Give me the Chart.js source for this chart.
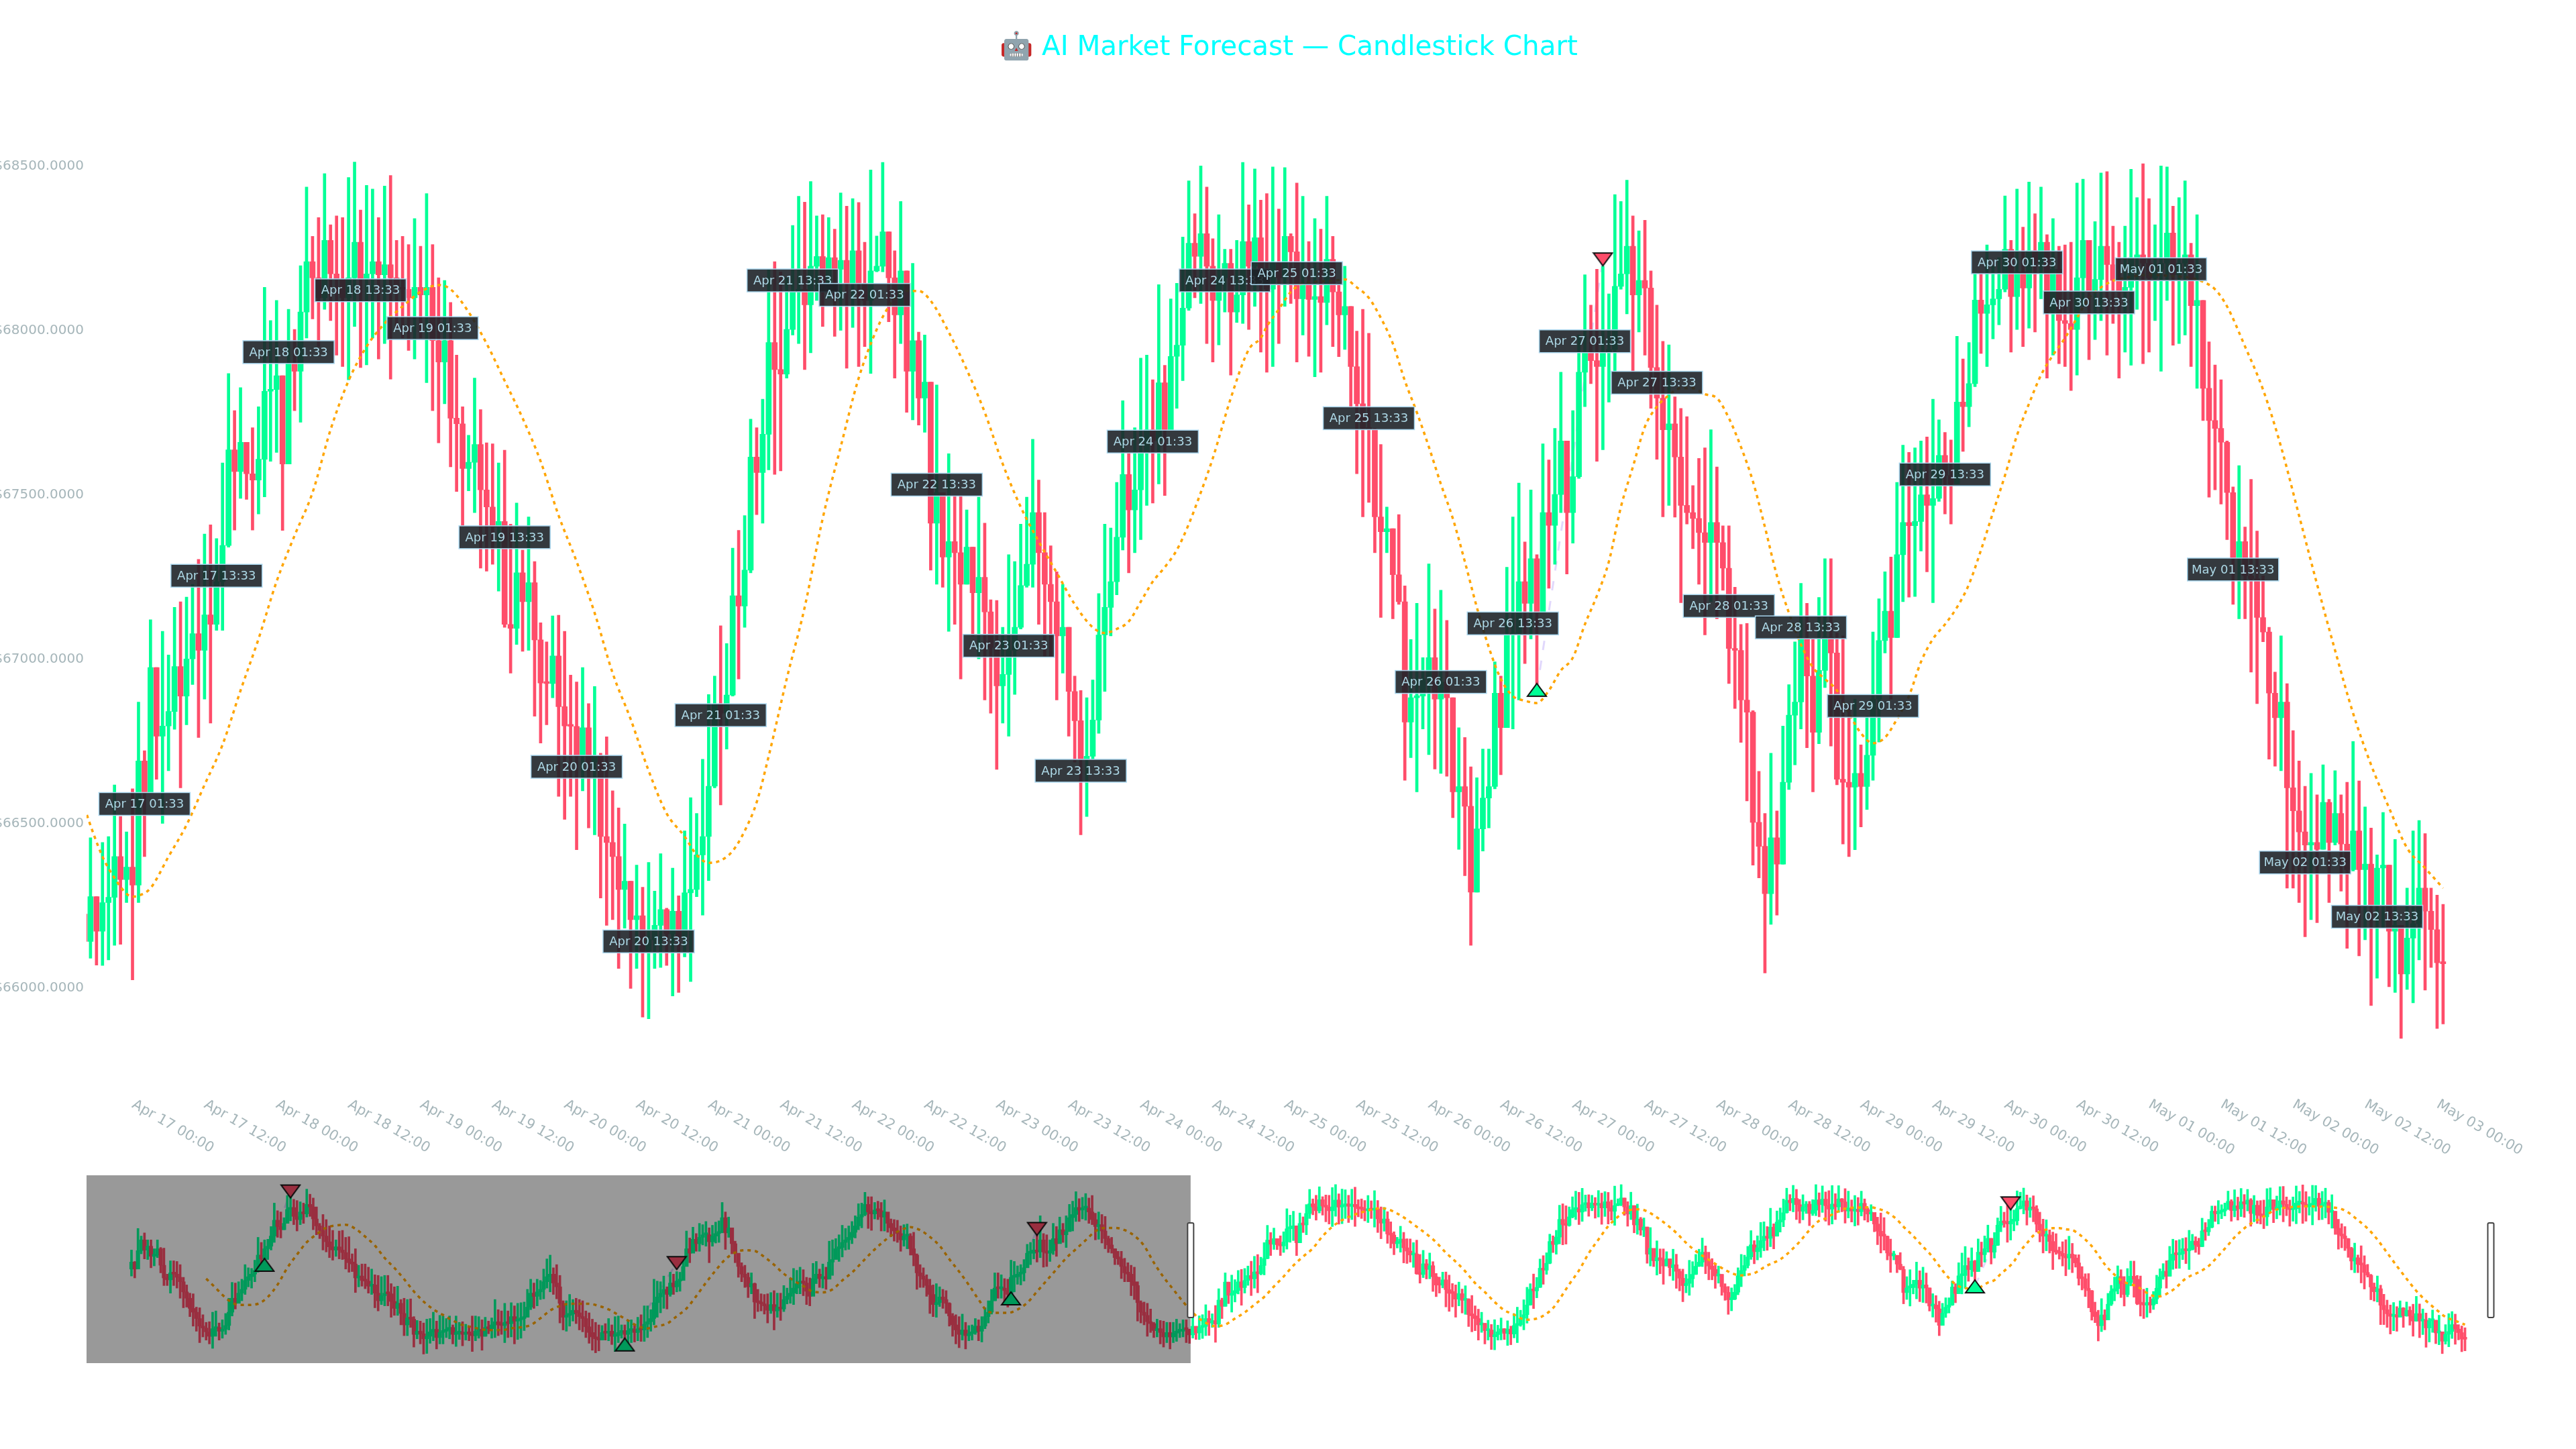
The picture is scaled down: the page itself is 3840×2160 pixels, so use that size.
<!DOCTYPE html>
<html>
<head>
<meta charset="utf-8">
<title>AI Market Forecast</title>
<script src="https://cdn.jsdelivr.net/npm/chart.js@4/dist/chart.umd.js"></script>
<style>
  html, body { margin: 0; background: #fff; overflow: hidden; }
  canvas { position: absolute; left: 0; }
</style>
</head>
<body>
<canvas id="mainChart" width="3840" height="1752" style="top:0"></canvas>
<canvas id="sliderChart" width="3840" height="408" style="top:1752px"></canvas>
<script>
// Values. Hours are counted from Apr 17 00:00, one candle per hour.
const firstHour = -334.45;
const firstOpen = 67180;

// candles before the visible window (only seen under the range slider mask)
const earlyHighs = [
  67480,67300,67820,67700,67750,67640,67640,67500,67640,67520,
  67510,67100,67310,67310,67300,67250,67050,66930,66800,66790,
  66580,66570,66460,66340,66350,66500,66520,66330,66380,66480,
  66720,66970,66960,66980,67020,67250,67200,67190,67320,67680,
  67600,67640,67650,67850,68220,68100,68080,67990,68340,68330,
  68280,68260,68240,68220,68440,68360,68300,68160,67900,68040,
  67960,67860,67790,67640,67780,67790,67680,67690,67420,67500,
  67240,67260,67260,67210,67180,67090,67080,67060,67080,67080,
  66950,66900,66910,66700,66720,66700,66710,66430,66370,66360,
  66330,66390,66400,66500,66360,66450,66440,66400,66440,66300,
  66440,66340,66350,66310,66280,66440,66440,66430,66380,66420,
  66360,66410,66700,66540,66520,66640,66520,66650,66600,66640,
  66650,66660,66860,67020,66960,67020,67000,67180,67340,67400,
  67200,67250,67080,66680,66680,66780,66700,66720,66700,66680,
  66520,66490,66390,66340,66300,66290,66320,66400,66300,66430,
  66440,66300,66300,66380,66380,66310,66420,66460,66600,66600,
  66540,67020,66990,66980,67070,66900,67130,67100,67140,67130,
  67320,67780,67670,67840,67740,67900,67880,67930,67830,67870,
  67920,67940,68230,68080,68000,67790,67620,67370,67280,67240,
  67120,67120,66960,66860,66790,66780,66790,66810,66840,66800,
  66800,66920,66880,67040,67190,67160,67210,67170,67050,67040,
  67270,67300,67180,67260,67210,67620,67640,67660,67720,67870,
  67820,67860,67930,68020,68210,68220,68390,68320,68320,68230,
  68250,68230,68270,68060,67970,67960,67950,67860,67880,67890,
  67740,67760,67420,67250,67200,67090,67020,66930,66950,66900,
  66860,66840,66650,66480,66460,66430,66470,66340,66290,66300,
  66400,66380,66430,66570,66680,66860,67120,67120,67090,67030,
  67020,67320,67300,67230,67250,67330,67570,67600,67650,67740,
  68020,67740,67720,67640,67900,67850,68000,67900,68020,68200,
  68250,68400,68290,68310,68370,68300,68340,68060,68080,68040,
  68010,67700,67680,67500,67460,67460,67350,67280,67240,67210,
  66980,66680,66660,66640,66550,66340,66390,66370,66360,66340,
  66340,66340,66390,66320,66380,66380
];
const earlyLows = [
  67070,67040,67270,67420,67340,67330,67200,67230,67360,67120,
  66920,66920,66800,66920,66880,66720,66570,66580,66430,66280,
  66200,66020,66110,66060,66000,65930,66120,66060,66090,66150,
  66220,66440,66550,66700,66680,66780,66900,66880,66980,67130,
  67140,67230,67330,67480,67600,67680,67670,67800,67940,67940,
  67880,67780,67880,67900,68000,68010,67800,67720,67660,67480,
  67450,67360,67320,67380,67340,67330,67180,67130,67140,66810,
  66900,66910,66870,66800,66780,66570,66520,66620,66600,66600,
  66420,66450,66450,66300,66130,66130,66260,65950,66080,66000,
  65840,65850,66010,66050,65920,66000,66000,66100,66080,66000,
  65960,66070,65970,66060,66050,65880,66050,66090,65900,66120,
  66160,66090,66100,66130,66150,66020,66100,66110,66000,66070,
  66090,66210,66420,66540,66560,66600,66700,66710,66880,66820,
  66780,66710,66330,66220,66200,66280,66360,66320,66220,66190,
  66100,66010,65900,65860,65890,66060,66060,66050,65990,65880,
  66020,66090,66050,65970,66020,66030,66050,66040,66040,66100,
  66200,66300,66420,66490,66560,66550,66750,66780,66820,66830,
  67090,67290,67280,67440,67460,67460,67560,67540,67280,67540,
  67590,67600,67750,67490,67680,67420,67280,67050,66980,66890,
  66730,66790,66400,66510,66520,66470,66330,66480,66220,66420,
  66370,66510,66630,66640,66620,66790,66790,66760,66620,66600,
  66830,66950,66890,66880,66860,67070,67080,67340,67300,67370,
  67480,67490,67580,67670,67800,67830,68020,67820,67790,67970,
  67960,67780,67780,67760,67690,67620,67600,67460,67540,67500,
  67400,67230,66860,66890,66890,66750,66480,66430,66420,66590,
  66560,66480,66280,66120,66000,65940,66060,65920,66050,66060,
  66150,66050,66030,66240,66330,66470,66680,66720,66720,66650,
  66580,66790,66820,66940,66930,66990,67270,67250,67340,67290,
  67360,67210,67220,67300,67410,67380,67600,67600,67520,67780,
  67780,67930,67930,67970,67950,67900,67880,67640,67650,67590,
  67500,67440,67430,67250,67250,67030,66980,66980,66760,66700,
  66360,66330,66300,66120,66180,66100,66110,66000,65950,66020,
  65920,66020,66040,66100,66110,66020
];
const earlyCloses = [
  67290,67180,67470,67640,67480,67540,67380,67400,67500,67240,
  67040,67010,67120,67100,67050,66980,66820,66720,66560,66500,
  66400,66280,66250,66190,66120,66240,66260,66200,66230,66290,
  66500,66720,66640,66800,66860,67000,67060,67100,67160,67400,
  67340,67500,67540,67700,67950,67850,67800,67900,68120,68150,
  68010,67960,68080,68050,68200,68160,67970,67860,67790,67700,
  67610,67530,67480,67530,67480,67440,67340,67280,67260,67040,
  67070,67000,66990,66910,66930,66800,66680,66760,66800,66790,
  66670,66560,66640,66480,66300,66410,66390,66150,66200,66160,
  66080,66120,66190,66230,66100,66180,66200,66220,66260,66150,
  66170,66190,66150,66180,66160,66130,66200,66230,66120,66260,
  66240,66300,66350,66300,66290,66340,66320,66430,66360,66380,
  66400,66420,66580,66800,66750,66820,66860,66980,67060,67100,
  66960,66900,66640,66420,66450,66470,66530,66490,66430,66400,
  66270,66180,66110,66080,66060,66180,66170,66200,66120,66130,
  66180,66210,66150,66210,66230,66180,66240,66220,66310,66350,
  66400,66650,66740,66800,66860,66780,66960,66900,66990,67000,
  67220,67500,67430,67650,67580,67680,67720,67720,67610,67700,
  67740,67760,67990,67750,67830,67580,67430,67220,67100,67050,
  66900,66950,66660,66650,66630,66600,66530,66620,66520,66580,
  66550,66700,66750,66800,66880,66950,66990,66960,66830,66750,
  67030,67100,67030,67060,67020,67290,67330,67500,67520,67600,
  67640,67680,67760,67860,68000,68040,68200,68080,68050,68110,
  68100,68000,68080,67900,67830,67780,67740,67640,67700,67700,
  67500,67400,67120,67070,67020,66920,66780,66620,66650,66740,
  66700,66640,66440,66300,66220,66150,66220,66130,66160,66180,
  66280,66200,66280,66430,66500,66680,66880,66870,66880,66840,
  66780,67050,67060,67100,67120,67200,67430,67430,67480,67450,
  67640,67450,67430,67470,67660,67580,67800,67720,67770,67990,
  68040,68150,68110,68140,68140,68080,67960,67850,67880,67780,
  67660,67560,67500,67360,67340,67220,67120,67100,66980,66920,
  66650,66500,66450,66350,66320,66210,66240,66180,66110,66180,
  66110,66170,66200,66200,66230,66225
];

// candles inside the visible window
const highs = [
  66234,66457,66278,66443,66461,66618,66522,66475,66606,66870,
  66722,67120,66975,67085,67013,67158,67175,67189,67228,67304,
  67381,67409,67367,67597,67869,67756,67826,67660,67704,67768,
  68131,68030,68091,67862,68064,68003,68197,68436,68286,68343,
  68477,68321,68348,68343,68465,68512,68366,68441,68430,68343,
  68439,68471,68274,68286,68261,68340,68256,68416,68261,68160,
  68152,68085,67925,67768,67681,67855,67759,67658,67655,67597,
  67636,67411,67475,67332,67433,67297,67111,67053,67132,67134,
  67085,66952,66931,66975,66865,66917,66714,66764,66600,66548,
  66499,66325,66374,66307,66382,66295,66409,66243,66365,66281,
  66478,66579,66531,66696,66893,66949,67102,67048,67338,67392,
  67437,67730,67704,67791,68186,68209,68178,68160,68319,68408,
  68390,68453,68348,68352,68343,68308,68418,68378,68401,68389,
  68268,68488,68287,68511,68300,68242,68392,68181,68204,67995,
  67986,67843,67834,67498,67625,67498,67498,67454,67341,67493,
  67414,67181,67179,67097,67318,67297,67411,67493,67669,67545,
  67446,67345,67266,67228,67097,66949,66905,66883,66937,67200,
  67411,67399,67538,67786,67629,67704,67916,67925,67850,68139,
  67894,68096,68143,68284,68455,68355,68500,68436,68279,68352,
  68247,68247,68274,68511,68382,68491,68396,68416,68497,68369,
  68495,68294,68448,68408,68270,68340,68308,68408,68286,68143,
  68195,68073,67998,68064,67991,67702,67653,67463,67397,67440,
  67223,67060,67170,67005,67290,67153,67210,67118,66883,66792,
  66762,66673,66640,66727,66727,66992,66949,67280,67433,67536,
  67357,67515,67318,67655,67606,67702,67873,67664,67756,67986,
  68169,68077,68186,68195,68111,68413,68392,68457,68348,68303,
  68335,68181,68077,67967,67956,67798,67763,67738,67528,67611,
  67643,67698,67585,67406,67406,67219,67106,67109,66844,66659,
  66531,66714,66539,66797,66923,67053,67231,67170,67062,67188,
  67306,67306,67080,67071,66862,66879,66740,66827,67083,67184,
  67266,67311,67538,67651,67629,67643,67664,67676,67791,67728,
  67690,67667,67982,67913,67963,68174,68174,68260,68195,68221,
  68409,68274,68430,68314,68451,68355,68436,68291,68340,68256,
  68260,68268,68448,68460,68274,68331,68479,68483,68317,68268,
  68317,68490,68404,68507,68401,68321,68500,68497,68378,68404,
  68455,68265,68352,68091,67965,67895,67850,67664,67524,67589,
  67402,67547,67390,67254,67097,66961,67071,66926,66783,66691,
  66614,66653,66588,66679,66574,66661,66588,66626,66750,66630,
  66551,66487,66405,66534,66374,66452,66191,66304,66478,66510,
  66470,66304,66283,66255
];
const lows = [
  66008,66091,66070,66069,66086,66130,66133,66260,66025,66260,
  66400,66592,66635,66501,66661,66787,66609,66801,66923,66762,
  66879,66806,67088,67088,67341,67393,67489,67486,67393,67442,
  67494,67602,67629,67392,67594,67756,67721,67977,68035,67951,
  68064,68030,67925,67890,67850,68012,67887,67895,67977,67913,
  67960,67852,68003,67977,67939,67913,67977,67841,67756,67658,
  67777,67585,67510,67406,67512,67446,67277,67268,67289,67207,
  67097,66958,67045,67024,67027,66827,66745,66801,66883,66583,
  66513,66583,66421,66600,66487,66466,66274,66191,66208,66060,
  66182,65999,66060,65912,65907,66060,66063,66069,65976,65987,
  66095,66020,66278,66222,66327,66609,66557,66727,66888,66940,
  67097,67263,67440,67414,67576,67562,67573,67855,67986,67960,
  67881,67932,68091,68012,68099,67982,68000,67885,68009,67890,
  67951,67869,68178,68178,68026,67855,67960,67751,67728,67712,
  67690,67271,67228,67219,67085,67106,66940,67228,67071,67001,
  66876,66836,66665,66806,66766,66893,67092,67219,67219,67106,
  67010,67010,66876,66958,66766,66687,66466,66522,66696,66775,
  66902,67071,67196,67332,67263,67324,67364,67468,67475,67533,
  67498,67698,67763,67847,68061,68099,68082,67960,67904,67956,
  68056,67864,68024,68021,68003,68073,67934,67873,67890,67960,
  68073,68082,67904,67986,67921,67859,67873,68017,67951,67920,
  67942,67768,67564,67433,67477,67324,67127,67324,67123,67167,
  66632,66701,66597,66788,66710,66666,66653,66644,66518,66422,
  66342,66130,66292,66417,66487,66606,66649,66792,66788,66876,
  66987,67062,66923,67141,67216,67289,67446,67259,67353,67550,
  67768,67838,67602,67637,67782,67873,68125,68050,67873,67995,
  67925,67763,67608,67433,67468,67432,67172,67411,67336,67228,
  67074,67175,67123,67210,66926,66850,66747,66569,66374,66335,
  66046,66194,66222,66377,66604,66679,66788,66731,66597,66743,
  66914,66736,66618,66438,66400,66421,66490,66543,66632,66748,
  67019,66879,67066,67175,67189,67191,67329,67266,67172,67480,
  67442,67411,67533,67632,67707,67829,67930,67890,67974,68017,
  68117,67934,68003,67951,68007,67995,68096,67855,67925,67899,
  67890,67817,67864,68073,67911,67972,68030,67925,68021,67855,
  67934,67894,68064,67899,67934,68030,67876,68091,67955,67960,
  67986,67890,67824,67726,67493,67515,67472,67364,67167,67123,
  67123,66961,66865,67053,66696,66675,66661,66304,66304,66260,
  66156,66208,66199,66422,66260,66435,66295,66121,66356,66098,
  66147,65947,66030,66182,66004,65987,65847,65996,65955,66086,
  65994,66063,65877,65891
];
const closes = [
  66142,66278,66173,66260,66276,66400,66330,66368,66313,66691,
  66592,66975,66766,66797,66841,66978,66888,67001,67078,67027,
  67135,67106,67236,67346,67637,67571,67660,67564,67545,67608,
  67815,67820,67862,67594,67899,67876,68056,68209,68160,68099,
  68274,68172,68155,68099,68160,68268,68157,68172,68209,68169,
  68200,68160,68131,68125,68099,68131,68108,68131,67969,67904,
  67969,67733,67716,67580,67599,67653,67515,67463,67402,67419,
  67106,67094,67263,67175,67233,67059,66928,66926,67010,66856,
  66797,66796,66705,66792,66687,66705,66461,66443,66400,66300,
  66325,66208,66220,66112,66147,66191,66239,66165,66234,66156,
  66290,66300,66405,66461,66614,66862,66836,66891,67193,67162,
  67271,67615,67568,67684,67963,67881,67867,68003,68117,68125,
  68078,68195,68225,68143,68221,68186,68213,68143,68242,68143,
  68091,68181,68195,68300,68160,68047,68181,67876,67969,67794,
  67843,67414,67507,67311,67358,67324,67228,67341,67202,67249,
  67144,67036,66919,66954,67027,67097,67224,67289,67446,67324,
  67228,67175,67071,67097,66902,66813,66696,66705,66815,67074,
  67158,67236,67371,67562,67454,67515,67629,67698,67664,67841,
  67698,67921,67955,68068,68265,68225,68294,68195,68091,68160,
  68204,68056,68108,68270,68195,68282,68178,68125,68204,68160,
  68286,68239,68096,68143,68094,68103,68085,68216,68117,68047,
  68073,67890,67777,67702,67698,67433,67388,67397,67257,67175,
  66809,66883,66888,66940,67005,66879,66931,66883,66597,66613,
  66553,66292,66484,66578,66613,66897,66792,67074,67078,67236,
  67170,67306,67141,67446,67407,67501,67664,67446,67555,67873,
  67934,67908,67890,67934,67942,68134,68172,68256,68108,68152,
  68129,67887,67794,67698,67716,67615,67468,67446,67428,67385,
  67355,67416,67355,67277,67033,67027,66876,66839,66504,66431,
  66287,66457,66377,66626,66830,66870,67062,66949,66778,66966,
  67067,67019,66635,66626,66611,66653,66613,66708,66879,67057,
  67146,67066,67318,67416,67406,67419,67500,67468,67489,67620,
  67559,67533,67782,67768,67838,68092,68052,68078,68096,68125,
  68247,68103,68178,68129,68242,68204,68268,68056,68186,68030,
  68021,68003,68160,68274,68117,68155,68256,68200,68152,68117,
  68131,68221,68230,68204,68160,68186,68204,68296,68169,68204,
  68230,68075,68091,67824,67726,67702,67660,67507,67306,67358,
  67254,67245,67127,67083,66897,66822,66870,66609,66539,66475,
  66435,66443,66422,66565,66443,66531,66438,66360,66478,66360,
  66377,66252,66365,66374,66173,66191,66043,66152,66196,66304,
  66234,66178,66077,66074
];

// dotted moving average, sampled along the candles (candle number, price)
const earlyMaCandle = [
  23,26,28,30,33,36,39,42,45,48,
  51,54,57,60,63,66,69,72,75,78,
  81,84,87,90,93,96,99,102,105,108,
  111,114,117,120,123,126,129,132,135,138,
  141,144,147,150,153,156,159,162,165,168,
  171,174,177,180,183,186,189,192,195,198,
  201,204,207,210,213,216,219,222,225,228,
  231,234,237,240,243,246,249,252,255,258,
  261,264,267,270,273,276,279,282,285,288,
  291,294,297,300,303,306,309,312,315,318,
  321,324
];
const earlyMa = [
  67028,66880,66774,66686,66615,66615,66633,66739,66933,67198,
  67409,67603,67727,67832,67868,67878,67815,67691,67550,67356,
  67198,67021,66827,66668,66545,66457,66369,66298,66263,66228,
  66217,66217,66245,66263,66298,66404,66527,66598,66633,66633,
  66633,66598,66545,66457,66369,66280,66245,66280,66320,66436,
  66559,66753,66965,67159,67335,67441,67476,67466,67371,67247,
  67106,67000,66912,66824,66813,66859,67000,67124,67282,67441,
  67582,67706,67794,67840,67794,67688,67547,67335,67141,66930,
  66700,66507,66489,66489,66542,66648,66824,67000,67177,67353,
  67494,67635,67776,67829,67829,67794,67706,67547,67282,67053,
  66859,66665
];
const maCandle = [
  0,3,5,7,8,9,11,14,17,20,
  23,26,29,32,35,38,41,44,47,50,
  53,56,59,61,64,67,70,73,76,79,
  82,85,88,91,94,97,100,102,104,106,
  108,110,112,114,117,120,123,126,129,132,
  134,135,137,139,141,144,147,150,153,156,
  159,162,165,168,170,172,174,176,178,180,
  182,184,186,188,191,194,196,197,199,201,
  203,205,208,210,212,214,216,218,220,222,
  224,226,228,230,232,234,236,238,240,242,
  244,246,248,250,252,254,256,258,260,262,
  264,266,268,270,272,274,276,278,280,282,
  284,286,288,290,292,294,296,298,300,302,
  304,306,308,310,312,314,316,318,320,322,
  324,326,328,330,332,334,336,338,340,344,
  348,351,353,355,357,360,363,366,369,372,
  375,378,381,384,387,390,393
];
const maValues = [
  66548,66400,66335,66287,66278,66281,66304,66400,66496,66618,
  66740,66905,67062,67236,67376,67507,67698,67847,67951,68021,
  68073,68117,68138,68125,68056,67960,67847,67733,67602,67437,
  67297,67141,66958,66818,66661,66531,66461,66405,66381,66388,
  66417,66478,66565,66705,66940,67158,67428,67646,67855,68003,
  68073,68099,68120,68120,68090,67995,67881,67751,67594,67463,
  67358,67263,67167,67097,67080,67092,67115,67175,67236,67280,
  67332,67411,67507,67611,67794,67942,67977,68012,68064,68117,
  68143,68148,68151,68155,68131,68099,68038,67960,67847,67751,
  67646,67533,67428,67297,67158,67036,66940,66888,66874,66867,
  66905,66966,67005,67106,67193,67297,67463,67585,67707,67768,
  67803,67824,67824,67806,67794,67733,67646,67541,67402,67254,
  67141,67045,66975,66940,66905,66836,66775,66745,66762,66818,
  66888,66992,67062,67106,67158,67228,67332,67446,67559,67681,
  67777,67864,67925,67977,68038,68099,68131,68151,68160,68169,
  68165,68160,68148,68125,68073,67951,67820,67646,67437,67228,
  67027,66836,66679,66548,66426,66365,66304
];

// buy and sell signals (candle number, price)
const buyCandles = [41, 152, 271, 568];
const buyPrices = [67247, 65991, 66718, 66907];
const sellCandles = [49, 168, 279, 579];
const sellPrices = [68404, 67275, 67812, 68216];

// note boxes on the main chart
const noteCandles = [
  336,348,360,372,384,396,408,420,432,444,456,468,480,492,504,516,
  528,540,552,564,576,588,600,612,624,636,648,660,672,684,696,708
];
const noteTexts = [
  'Apr 17 01:33','Apr 17 13:33','Apr 18 01:33','Apr 18 13:33','Apr 19 01:33','Apr 19 13:33','Apr 20 01:33','Apr 20 13:33',
  'Apr 21 01:33','Apr 21 13:33','Apr 22 01:33','Apr 22 13:33','Apr 23 01:33','Apr 23 13:33','Apr 24 01:33','Apr 24 13:33',
  'Apr 25 01:33','Apr 25 13:33','Apr 26 01:33','Apr 26 13:33','Apr 27 01:33','Apr 27 13:33','Apr 28 01:33','Apr 28 13:33',
  'Apr 29 01:33','Apr 29 13:33','Apr 30 01:33','Apr 30 13:33','May 01 01:33','May 01 13:33','May 02 01:33','May 02 13:33'
];
const notePrices = [
  66560,67254,67934,68122,68007,67371,66673,66142,66830,68152,68108,67531,67041,66661,67662,68152,
  68174,67733,66931,67109,67967,67841,67162,67097,66858,67562,68207,68085,68186,67273,66382,66217
];

const yTickValues = [66000, 66500, 67000, 67500, 68000, 68500];
const xTickHours = [0,12,24,36,48,60,72,84,96,108,120,132,144,156,168,180,192,204,216,228,240,252,264,276,288,300,312,324,336,348,360,372,384];
const xTickLabels = [
  'Apr 17 00:00','Apr 17 12:00','Apr 18 00:00','Apr 18 12:00','Apr 19 00:00','Apr 19 12:00','Apr 20 00:00','Apr 20 12:00',
  'Apr 21 00:00','Apr 21 12:00','Apr 22 00:00','Apr 22 12:00','Apr 23 00:00','Apr 23 12:00','Apr 24 00:00','Apr 24 12:00',
  'Apr 25 00:00','Apr 25 12:00','Apr 26 00:00','Apr 26 12:00','Apr 27 00:00','Apr 27 12:00','Apr 28 00:00','Apr 28 12:00',
  'Apr 29 00:00','Apr 29 12:00','Apr 30 00:00','Apr 30 12:00','May 01 00:00','May 01 12:00','May 02 00:00','May 02 12:00','May 03 00:00'
];

const windowStart = -8.11;
const windowEnd = 392.5;
const sliderStart = -348.3;
const priceMin = 65697;
const priceMax = 68658;

const UP = '#00ff96';
const DOWN = '#ff4d6a';
const FONT = '"DejaVu Sans", Verdana, sans-serif';
const TICK_COLOR = '#a6b6ba';

const allHighs = earlyHighs.concat(highs);
const allLows = earlyLows.concat(lows);
const allCloses = earlyCloses.concat(closes);
const hourOf = n => firstHour + n;
const opens = allCloses.map((c, n) => n === 0 ? firstOpen : allCloses[n - 1]);
const barColors = allCloses.map((c, n) => c >= opens[n] ? UP : DOWN);

const maPoints = earlyMaCandle.map((n, i) => ({ x: hourOf(n), y: earlyMa[i] }))
  .concat(maCandle.map((n, i) => ({ x: hourOf(earlyCloses.length + n), y: maValues[i] })));

function triangle(up, color) {
  const c = document.createElement('canvas');
  c.width = 32;
  c.height = 23;
  const g = c.getContext('2d');
  g.beginPath();
  if (up) { g.moveTo(16, 2); g.lineTo(30, 21); g.lineTo(2, 21); }
  else { g.moveTo(2, 2); g.lineTo(30, 2); g.lineTo(16, 21); }
  g.closePath();
  g.fillStyle = color;
  g.fill();
  g.lineWidth = 2;
  g.strokeStyle = '#111';
  g.stroke();
  return c;
}
const upMark = triangle(true, UP);
const downMark = triangle(false, DOWN);

// datasets are the same in both charts, only the thickness changes
function makeDatasets(wickWidth, bodyWidth) {
  const links = buyCandles.map((b, i) => ({
    type: 'line',
    order: 5,
    data: [{ x: hourOf(b), y: buyPrices[i] }, { x: hourOf(sellCandles[i]), y: sellPrices[i] }],
    borderColor: 'rgba(205,190,250,0.6)',
    borderWidth: 3,
    borderDash: [14, 16],
    pointRadius: 0
  }));
  return links.concat([
    {
      type: 'bar', order: 4, grouped: false, barThickness: wickWidth,
      data: allCloses.map((c, n) => ({ x: hourOf(n), y: [allLows[n], allHighs[n]] })),
      backgroundColor: barColors
    },
    {
      type: 'bar', order: 3, grouped: false, barThickness: bodyWidth, minBarLength: 3,
      data: allCloses.map((c, n) => ({ x: hourOf(n), y: [Math.min(c, opens[n]), Math.max(c, opens[n])] })),
      backgroundColor: barColors
    },
    {
      type: 'line', order: 2,
      data: maPoints,
      borderColor: '#ffa500', borderWidth: 3.5, borderDash: [5, 6],
      pointRadius: 0, cubicInterpolationMode: 'monotone'
    },
    {
      type: 'scatter', order: 1,
      data: buyCandles.map((n, i) => ({ x: hourOf(n), y: buyPrices[i] })),
      pointStyle: upMark, pointRadius: 10
    },
    {
      type: 'scatter', order: 1,
      data: sellCandles.map((n, i) => ({ x: hourOf(n), y: sellPrices[i] })),
      pointStyle: downMark, pointRadius: 10
    }
  ]);
}

// scales stay hidden: they take no room, so the plot sits exactly inside the padding
function makeScales(xMin, xMax) {
  return {
    x: { type: 'linear', display: false, min: xMin, max: xMax, offset: false },
    y: { type: 'linear', display: false, min: priceMin, max: priceMax }
  };
}

// the axis texts start at the tick and run downwards, which the built in labels cannot do
const axisText = {
  id: 'axisText',
  afterDraw(chart) {
    const { ctx, scales } = chart;
    ctx.save();
    ctx.font = '20px ' + FONT;
    ctx.fillStyle = TICK_COLOR;
    ctx.textAlign = 'right';
    ctx.textBaseline = 'middle';
    yTickValues.forEach(v => {
      ctx.fillText('$' + v.toFixed(4), 125, scales.y.getPixelForValue(v));
    });
    ctx.font = '21px ' + FONT;
    ctx.textAlign = 'left';
    ctx.textBaseline = 'alphabetic';
    xTickHours.forEach((h, i) => {
      ctx.save();
      ctx.translate(scales.x.getPixelForValue(h) - 6, 1650);
      ctx.rotate(Math.PI / 6);
      ctx.fillText(xTickLabels[i], 0, 0);
      ctx.restore();
    });
    ctx.restore();
  }
};

const noteBoxes = {
  id: 'noteBoxes',
  afterDatasetsDraw(chart) {
    const { ctx, scales } = chart;
    ctx.save();
    ctx.font = '18px ' + FONT;
    ctx.textAlign = 'center';
    ctx.textBaseline = 'middle';
    noteCandles.forEach((n, i) => {
      const x = scales.x.getPixelForValue(hourOf(n));
      const y = scales.y.getPixelForValue(notePrices[i]);
      ctx.fillStyle = 'rgba(30,35,41,0.9)';
      ctx.fillRect(x - 68, y - 17, 136, 34);
      ctx.strokeStyle = '#a9d6ee';
      ctx.lineWidth = 1.5;
      ctx.strokeRect(x - 68, y - 17, 136, 34);
      ctx.fillStyle = '#add8e6';
      ctx.fillText(noteTexts[i], x, y + 1);
    });
    ctx.restore();
  }
};

// grey mask left of the window and the two handles
const sliderMask = {
  id: 'sliderMask',
  afterDatasetsDraw(chart) {
    const { ctx, scales, chartArea } = chart;
    const left = scales.x.getPixelForValue(windowStart);
    const right = scales.x.getPixelForValue(windowEnd);
    ctx.save();
    ctx.fillStyle = 'rgba(0,0,0,0.4)';
    ctx.fillRect(chartArea.left, chartArea.top, left - chartArea.left, chartArea.height);
    [left, right].forEach(x => {
      ctx.beginPath();
      ctx.roundRect(x - 4.5, chartArea.top + 71, 9, 141, 2);
      ctx.fillStyle = '#fff';
      ctx.fill();
      ctx.lineWidth = 2;
      ctx.strokeStyle = '#444';
      ctx.stroke();
    });
    ctx.restore();
  }
};

const baseOptions = {
  responsive: false,
  animation: false,
  events: []
};

new Chart(document.getElementById('mainChart'), {
  type: 'bar',
  data: { datasets: makeDatasets(4, 8) },
  options: Object.assign({}, baseOptions, {
    layout: { autoPadding: false, padding: { left: 129, right: 127, top: 0, bottom: 130.5 } },
    scales: makeScales(windowStart, windowEnd),
    plugins: {
      legend: { display: false },
      tooltip: { enabled: false },
      title: {
        display: true,
        text: '🤖 AI Market Forecast — Candlestick Chart',
        color: '#00ffff',
        font: { family: FONT, size: 40.4, weight: 'normal' },
        padding: { top: 47, bottom: 74.5 }
      }
    }
  }),
  plugins: [axisText, noteBoxes]
});

new Chart(document.getElementById('sliderChart'), {
  type: 'bar',
  data: { datasets: makeDatasets(3, 5.5) },
  options: Object.assign({}, baseOptions, {
    layout: { autoPadding: false, padding: { left: 129, right: 127, top: 0, bottom: 128 } },
    scales: makeScales(sliderStart, windowEnd),
    plugins: { legend: { display: false }, tooltip: { enabled: false } }
  }),
  plugins: [sliderMask]
});
</script>
</body>
</html>
